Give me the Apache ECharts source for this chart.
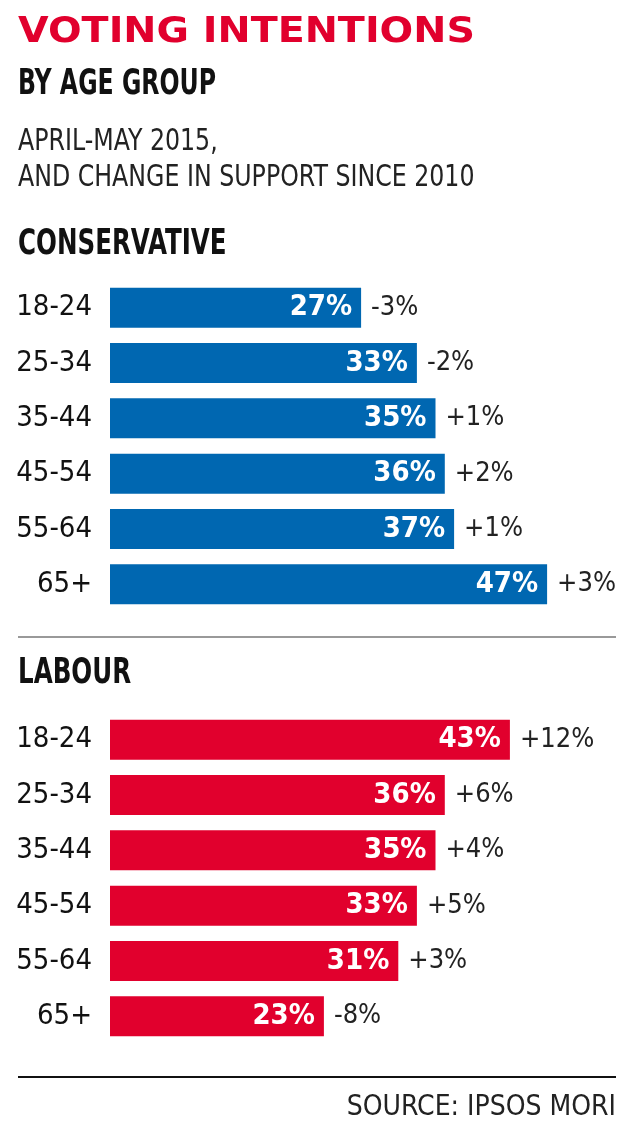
<!DOCTYPE html>
<html>
<head>
<meta charset="utf-8">
<script src="https://cdn.jsdelivr.net/npm/echarts@6/dist/echarts.min.js"></script>
<style>
  html, body { margin: 0; padding: 0; background: #fff; }
  #chart { width: 640px; height: 1138px; }
</style>
</head>
<body>
<div id="chart"></div>
<script>
// age groups, same for both parties
var ageGroups = ['18-24', '25-34', '35-44', '45-54', '55-64', '65+'];

// share of vote, april-may 2015 (%)
var conValues = [27, 33, 35, 36, 37, 47];
var labValues = [43, 36, 35, 33, 31, 23];

// change in support since 2010
var conChange = ['-3%', '-2%', '+1%', '+2%', '+1%', '+3%'];
var labChange = ['+12%', '+6%', '+4%', '+5%', '+3%', '-8%'];

var BLUE = '#0067b1';
var RED = '#e1002d';
var narrow = "'Liberation Sans Narrow', 'DejaVu Sans Condensed', sans-serif";

var chart = echarts.init(document.getElementById('chart'));

function grid(top) {
    return { left: 110, top: top, width: 465, height: 332, containLabel: false };
}

function xAxis(idx) {
    return {
        gridIndex: idx, type: 'value', min: 0, max: 50,
        show: false
    };
}

function yAxis(idx) {
    return {
        gridIndex: idx, type: 'category', data: ageGroups, inverse: true,
        axisLine: { show: false }, axisTick: { show: false },
        axisLabel: {
            margin: 18, fontFamily: narrow, fontSize: 29, color: '#111'
        }
    };
}

function barSeries(idx, values, color) {
    return {
        type: 'bar', xAxisIndex: idx, yAxisIndex: idx,
        data: values, barWidth: 40,
        itemStyle: { color: color },
        label: {
            show: true, position: 'insideRight', distance: 9,
            formatter: '{c}%',
            fontFamily: narrow, fontWeight: 'bold', fontSize: 29, color: '#fff'
        },
        silent: true
    };
}

// invisible copy of the bars, only there to carry the change label
function changeSeries(idx, values, changes) {
    return {
        type: 'bar', xAxisIndex: idx, yAxisIndex: idx,
        data: values, barWidth: 40, barGap: '-100%',
        itemStyle: { color: 'rgba(0,0,0,0)' },
        label: {
            show: true, position: 'right', distance: 10,
            formatter: function (p) { return changes[p.dataIndex]; },
            fontFamily: narrow, fontSize: 27, color: '#222'
        },
        silent: true
    };
}

// squeezed text, the original uses a condensed face
function heading(text, x, y, font, color, sx) {
    return {
        type: 'text', x: x, y: y, scaleX: sx, originX: 0,
        style: { text: text, fill: color, font: font, textVerticalAlign: 'top', lineHeight: 36 }
    };
}

chart.setOption({
    animation: false,
    grid: [grid(280), grid(712)],
    xAxis: [xAxis(0), xAxis(1)],
    yAxis: [yAxis(0), yAxis(1)],
    series: [
        barSeries(0, conValues, BLUE),
        changeSeries(0, conValues, conChange),
        barSeries(1, labValues, RED),
        changeSeries(1, labValues, labChange)
    ],
    graphic: [
        heading('VOTING INTENTIONS', 18, 15, "bold 36px 'DejaVu Sans', sans-serif", RED, 1.1),
        heading('BY AGE GROUP', 18, 67, 'bold 35px ' + narrow, '#111', 0.75),
        heading('APRIL-MAY 2015,\nAND CHANGE IN SUPPORT SINCE 2010', 18, 124, '31px ' + narrow, '#222', 0.85),
        heading('CONSERVATIVE', 18, 227, 'bold 35px ' + narrow, '#111', 0.78),
        { type: 'line', shape: { x1: 18, y1: 637, x2: 616, y2: 637 },
            style: { stroke: '#999', lineWidth: 2 } },
        heading('LABOUR', 18, 656, 'bold 35px ' + narrow, '#111', 0.78),
        { type: 'line', shape: { x1: 18, y1: 1077, x2: 616, y2: 1077 },
            style: { stroke: '#111', lineWidth: 2 } },
        { type: 'text', x: 616, y: 1108,
            style: { text: 'SOURCE: IPSOS MORI', fill: '#222', font: '28px ' + narrow,
                textAlign: 'right', textVerticalAlign: 'middle' } }
    ]
});
</script>
</body>
</html>
